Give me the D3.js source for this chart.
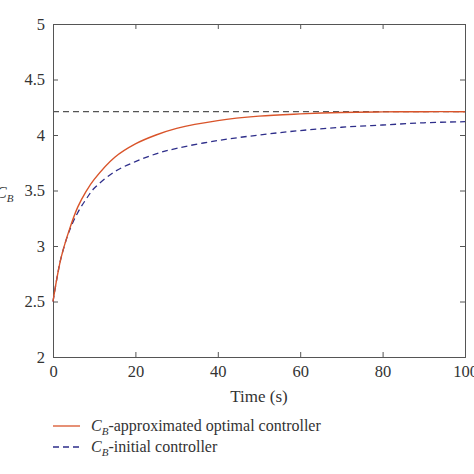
<!DOCTYPE html>
<html><head><meta charset="utf-8">
<script src="https://cdn.jsdelivr.net/npm/d3@7"></script>
<style>body{margin:0;background:#fff}text{font-family:"Liberation Serif",serif;fill:#333}</style>
</head><body><div id="chart"></div>
<script>
const times = [0, 1, 2, 4, 6, 8, 10, 15, 20, 25, 30, 40, 50, 60, 70, 80, 90, 100];
const optimal = [2.5, 2.72, 2.9, 3.15, 3.35, 3.49, 3.6, 3.8, 3.92, 4.0, 4.06, 4.13, 4.17, 4.19, 4.203, 4.208, 4.21, 4.21];
const initial = [2.5, 2.72, 2.9, 3.14, 3.3, 3.42, 3.52, 3.67, 3.76, 3.83, 3.88, 3.95, 4.0, 4.04, 4.07, 4.09, 4.11, 4.12];
const setpoint = 4.21;
const xTicks = [0, 20, 40, 60, 80, 100];
const yTicks = [2, 2.5, 3, 3.5, 4, 4.5, 5];

const margin = { top: 24, right: 9, bottom: 117, left: 53 };
const width = 474 - margin.left - margin.right;
const height = 474 - margin.top - margin.bottom;

const svg = d3.select("#chart").append("svg").attr("width", 474).attr("height", 474);
const g = svg.append("g").attr("transform", `translate(${margin.left},${margin.top})`);

const x = d3.scaleLinear().domain([0, 100]).range([0, width]);
const y = d3.scaleLinear().domain([2, 5]).range([height, 0]);

const axes = [
  [d3.axisBottom(x).tickValues(xTicks).tickSize(-5), `translate(0,${height})`, true],
  [d3.axisTop(x).tickValues(xTicks).tickSize(-5), "translate(0,0)", false],
  [d3.axisLeft(y).tickValues(yTicks).tickSize(-5).tickFormat(d3.format("")), "translate(0,0)", true],
  [d3.axisRight(y).tickValues(yTicks).tickSize(-5), `translate(${width},0)`, false]
];
axes.forEach(([ax, tr, labels]) => {
  const a = g.append("g").attr("transform", tr).call(ax.tickPadding(8));
  a.select(".domain").attr("stroke", "#555");
  a.selectAll("line").attr("stroke", "#555");
  if (!labels) a.selectAll("text").remove();
  else a.selectAll("text").attr("font-size", 16.5).attr("fill", "#333");
});

const line = d3.line().x((d, i) => x(times[i])).y(d => y(d)).curve(d3.curveCatmullRom);

g.append("line").attr("x1", 0).attr("x2", width).attr("y1", y(setpoint)).attr("y2", y(setpoint))
  .attr("stroke", "#555").attr("stroke-dasharray", "6,4").attr("stroke-width", 1.2);
g.append("path").datum(initial).attr("d", line).attr("fill", "none")
  .attr("stroke", "#2e2e8a").attr("stroke-width", 1.3).attr("stroke-dasharray", "6,4");
g.append("path").datum(optimal).attr("d", line).attr("fill", "none")
  .attr("stroke", "#d9542a").attr("stroke-width", 1.4);

g.append("text").attr("x", width / 2).attr("y", height + 45).attr("text-anchor", "middle")
  .attr("font-size", 17).text("Time (s)");
const yl = svg.append("text").attr("x", -4).attr("y", 198).attr("font-size", 16).attr("font-style", "italic");
yl.append("tspan").text("C");
yl.append("tspan").attr("font-size", 11).attr("dy", 4).text("B");

const legend = [["approximated optimal controller", "#d9542a", null, 426], ["initial controller", "#2e2e8a", "6,4", 447]];
legend.forEach(([label, color, dash, ly]) => {
  svg.append("line").attr("x1", 53).attr("x2", 80).attr("y1", ly).attr("y2", ly)
    .attr("stroke", color).attr("stroke-width", 1.3).attr("stroke-dasharray", dash);
  const t = svg.append("text").attr("x", 91).attr("y", ly + 5).attr("font-size", 16);
  t.append("tspan").attr("font-style", "italic").text("C");
  t.append("tspan").attr("font-style", "italic").attr("font-size", 11).attr("dy", 4).text("B");
  t.append("tspan").attr("dy", -4).text("-" + label);
});
</script></body></html>
